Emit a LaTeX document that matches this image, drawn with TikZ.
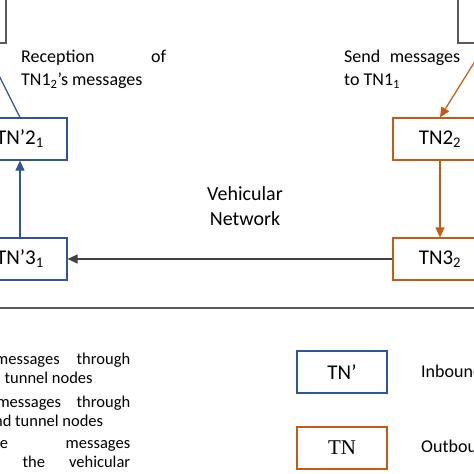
\documentclass[tikz,border=0pt]{standalone}
\usepackage{fontspec}
\setmainfont{Carlito}
\newfontfamily\tnserif{Liberation Serif}
\usetikzlibrary{arrows.meta,positioning}

\definecolor{inblue}{RGB}{47,85,151}
\definecolor{outorange}{RGB}{197,90,17}
\definecolor{netgray}{RGB}{64,64,64}
\definecolor{boxgray}{RGB}{89,89,89}

\tikzset{
  tnbox/.style={draw, line width=1.2pt, minimum width=94pt, minimum height=42pt,
    inner sep=0pt, font=\fontsize{21}{25}\selectfont},
  inbox/.style={tnbox, draw=inblue},
  outbox/.style={tnbox, draw=outorange},
  srcbox/.style={draw=boxgray, line width=1.2pt, minimum height=60pt, inner sep=0pt},
  flow/.style={line width=1.2pt, -{Triangle[length=10pt,width=9pt]}},
  note/.style={inner sep=0pt, align=justify, font=\fontsize{18}{23}\selectfont},
  keytext/.style={inner sep=0pt, align=justify, text width=185pt,
    font=\fontsize{16.5}{19}\selectfont}
}

\begin{document}
\begin{tikzpicture}[x=1pt,y=-1pt]
\useasboundingbox (0,0) rectangle (474,474);
\clip (0,0) rectangle (474,474);

% upper boxes, mostly outside the frame
\node[srcbox, minimum width=46pt] (srcL) at (-17,13) {};
\node[srcbox, minimum width=56pt] (srcR) at (486,13) {};

% tunnel nodes
\node[inbox] (in2) at (20,139) {TN’2\textsubscript{1}};
\node[inbox] (in3) at (20,259) {TN’3\textsubscript{1}};
\node[outbox] (out2) at (440,139) {TN2\textsubscript{2}};
\node[outbox] (out3) at (440,259) {TN3\textsubscript{2}};

\draw[flow, outorange] (srcR.south) -- (out2.north);
\draw[flow, outorange] (out2) -- (out3);
\draw[flow, netgray] (out3) -- (in3);
\draw[flow, inblue] (in3) -- (in2);
\draw[flow, inblue] (in2.north) -- (srcL.south);

\node[note, anchor=north west, text width=145pt] (recv) at (21,50)
  {Reception of\linebreak TN1\textsubscript{2}’s messages};
\node[note, anchor=north west, text width=116pt] (send) at (344,50)
  {Send messages\linebreak to TN1\textsubscript{1}};
\node[align=center, inner sep=0pt, font=\fontsize{20}{25}\selectfont] (vnet) at (245,206)
  {Vehicular\\Network};

% legend
\draw[boxgray, line width=1.5pt] (0,308) -- (474,308);

\node[keytext, anchor=north west] (key1) at (-55,353)
  {Send messages through\linebreak inbound tunnel nodes};
\node[keytext, anchor=north west] (key2) at (-55,396)
  {Relay messages through\linebreak outbound tunnel nodes};
\node[keytext, anchor=north west] (key3) at (-55,437)
  {Exchange messages\linebreak through the vehicular\linebreak network};

\node[inbox, minimum width=90pt] (keyIn) at (342,372) {TN’};
\node[outbox, minimum width=90pt, font=\tnserif\fontsize{21}{25}\selectfont] (keyOut) at (342,448) {TN};
\node[anchor=base west, inner sep=0pt, font=\fontsize{18}{22}\selectfont] (inLbl) at (421,377) {Inbound};
\node[anchor=base west, inner sep=0pt, font=\fontsize{18}{22}\selectfont] (outLbl) at (421,452) {Outbound};
\end{tikzpicture}
\end{document}
